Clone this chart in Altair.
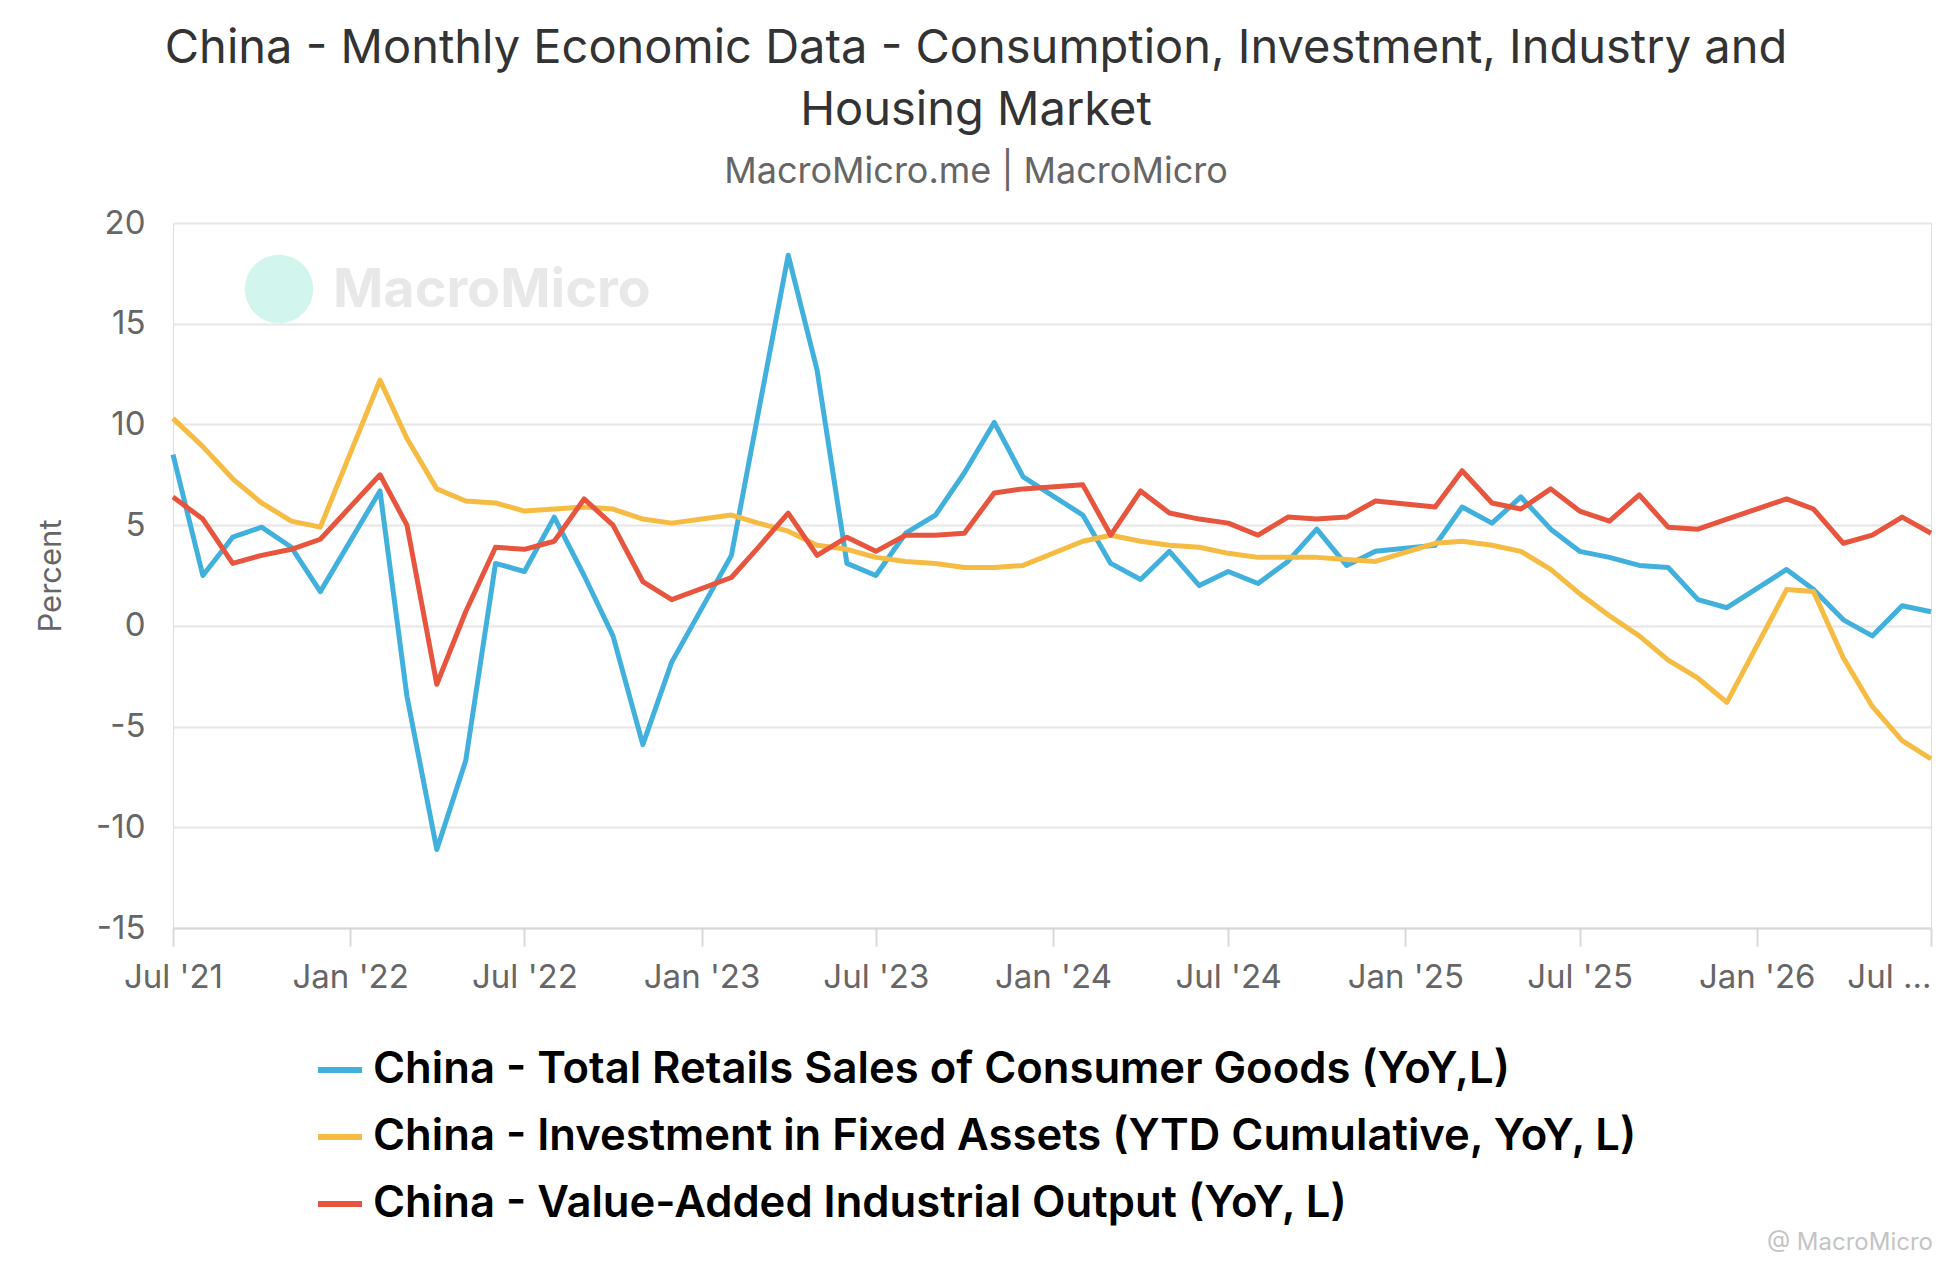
import altair as alt
import pandas as pd

# ---------------- data ----------------
months = [
    "2021-07", "2021-08", "2021-09", "2021-10", "2021-11", "2021-12",
    "2022-02", "2022-03", "2022-04", "2022-05", "2022-06", "2022-07", "2022-08", "2022-09", "2022-10", "2022-11", "2022-12",
    "2023-02", "2023-03", "2023-04", "2023-05", "2023-06", "2023-07", "2023-08", "2023-09", "2023-10", "2023-11", "2023-12",
    "2024-02", "2024-03", "2024-04", "2024-05", "2024-06", "2024-07", "2024-08", "2024-09", "2024-10", "2024-11", "2024-12",
    "2025-02", "2025-03", "2025-04", "2025-05", "2025-06", "2025-07", "2025-08", "2025-09", "2025-10", "2025-11", "2025-12",
    "2026-02", "2026-03", "2026-04", "2026-05", "2026-06", "2026-07",
]

retail = [
    8.5, 2.5, 4.4, 4.9, 3.9, 1.7,
    6.7, -3.5, -11.1, -6.7, 3.1, 2.7, 5.4, 2.5, -0.5, -5.9, -1.8,
    3.5, 10.6, 18.4, 12.7, 3.1, 2.5, 4.6, 5.5, 7.6, 10.1, 7.4,
    5.5, 3.1, 2.3, 3.7, 2.0, 2.7, 2.1, 3.2, 4.8, 3.0, 3.7,
    4.0, 5.9, 5.1, 6.4, 4.8, 3.7, 3.4, 3.0, 2.9, 1.3, 0.9,
    2.8, 1.8, 0.3, -0.5, 1.0, 0.7,
]

fixed_assets = [
    10.3, 8.9, 7.3, 6.1, 5.2, 4.9,
    12.2, 9.3, 6.8, 6.2, 6.1, 5.7, 5.8, 5.9, 5.8, 5.3, 5.1,
    5.5, 5.1, 4.7, 4.0, 3.8, 3.4, 3.2, 3.1, 2.9, 2.9, 3.0,
    4.2, 4.5, 4.2, 4.0, 3.9, 3.6, 3.4, 3.4, 3.4, 3.3, 3.2,
    4.1, 4.2, 4.0, 3.7, 2.8, 1.6, 0.5, -0.5, -1.7, -2.6, -3.8,
    1.8, 1.7, -1.6, -4.0, -5.7, -6.6,
]

industrial = [
    6.4, 5.3, 3.1, 3.5, 3.8, 4.3,
    7.5, 5.0, -2.9, 0.7, 3.9, 3.8, 4.2, 6.3, 5.0, 2.2, 1.3,
    2.4, 3.9, 5.6, 3.5, 4.4, 3.7, 4.5, 4.5, 4.6, 6.6, 6.8,
    7.0, 4.5, 6.7, 5.6, 5.3, 5.1, 4.5, 5.4, 5.3, 5.4, 6.2,
    5.9, 7.7, 6.1, 5.8, 6.8, 5.7, 5.2, 6.5, 4.9, 4.8, 5.3,
    6.3, 5.8, 4.1, 4.5, 5.4, 4.6,
]

series_names = [
    "China - Total Retails Sales of Consumer Goods (YoY,L)",
    "China - Investment in Fixed Assets (YTD Cumulative, YoY, L)",
    "China - Value-Added Industrial Output (YoY, L)",
]
series_colors = ["#41b0dc", "#f6bb42", "#e8553e"]

y_ticks = [-15, -10, -5, 0, 5, 10, 15, 20]
x_tick_years_months = [(2021, 7), (2022, 1), (2022, 7), (2023, 1), (2023, 7), (2024, 1),
                       (2024, 7), (2025, 1), (2025, 7), (2026, 1), (2026, 7)]

title_lines = ["China - Monthly Economic Data - Consumption, Investment, Industry and",
               "Housing Market"]
subtitle_text = "MacroMicro.me | MacroMicro"

# ---------------- build table ----------------
rows = []
for name, vals in zip(series_names, [retail, fixed_assets, industrial]):
    for m, v in zip(months, vals):
        rows.append({"date": m + "-01", "series": name, "value": v})
df = pd.DataFrame(rows)

FONT = "Inter"
W, H = 1758, 705
LAST = "utcyear(datum.value) == 2026 && utcmonth(datum.value) == 6"

x_enc = alt.X(
    "date:T",
    scale=alt.Scale(type="utc", nice=False,
                    domain=[alt.DateTime(year=2021, month=7, date=1, utc=True),
                            alt.DateTime(year=2026, month=7, date=1, utc=True)]),
    axis=alt.Axis(
        title=None,
        values=[alt.DateTime(year=y, month=m, date=1, utc=True) for y, m in x_tick_years_months],
        labelExpr=LAST + " ? 'Jul ...' : utcFormat(datum.value, \"%b '%y\")",
        labelAlign={"condition": {"test": LAST, "value": "right"}, "value": "center"},
        labelFont=FONT, labelFontSize=33, labelColor="#666666",
        labelPadding=15, labelOverlap=False,
        grid=False, domainColor="#d8d8d8", domainWidth=2,
        tickColor="#d8d8d8", tickSize=18, tickWidth=2,
    ),
)

y_enc = alt.Y(
    "value:Q",
    scale=alt.Scale(domain=[-15, 20], nice=False, zero=False),
    axis=alt.Axis(
        title="Percent", values=y_ticks, domain=False, ticks=False, tickSize=0,
        labelExpr="datum.value + ''",
        labelFont=FONT, labelFontSize=33, labelColor="#666666", labelPadding=28,
        gridColor="#e6e6e6", gridWidth=2,
        titleFont=FONT, titleFontSize=31, titleColor="#666666", titleFontWeight="normal",
        titleX=-106, titleY=H / 2,
    ),
)

lines = alt.Chart(df).mark_line(strokeWidth=5, strokeJoin="round").encode(
    x=x_enc,
    y=y_enc,
    color=alt.Color(
        "series:N",
        scale=alt.Scale(domain=series_names, range=series_colors),
        legend=alt.Legend(
            title=None, orient="none", legendX=142, legendY=822, direction="vertical",
            symbolType="stroke", symbolSize=1936, symbolStrokeWidth=6,
            labelFont=FONT, labelFontSize=43.6, labelFontWeight=600, labelColor="#000000",
            labelLimit=3000, labelOffset=8, rowPadding=20,
        ),
    ),
)

wm_logo = alt.Chart(pd.DataFrame({"k": [0]})).mark_circle(
    color="#d2f5ed", opacity=1, size=4700
).encode(x=alt.value(106), y=alt.value(66))

wm_text = alt.Chart(pd.DataFrame({"t": ["MacroMicro"]})).mark_text(
    font=FONT, fontSize=54, fontWeight="bold", color="#e8e8e8", align="left", baseline="middle"
).encode(text="t:N", x=alt.value(160), y=alt.value(68))

credit = alt.Chart(pd.DataFrame({"t": ["@ MacroMicro"]})).mark_text(
    font=FONT, fontSize=24, color="#c4c4c4", align="right", baseline="middle"
).encode(text="t:N", x=alt.value(1760), y=alt.value(1020))

chart = alt.layer(wm_logo, wm_text, lines, credit).properties(
    width=W,
    height=H,
    title=alt.TitleParams(
        text=title_lines, subtitle=[subtitle_text],
        font=FONT, fontSize=47, fontWeight="normal", color="#333333", lineHeight=62,
        subtitleFont=FONT, subtitleFontSize=36, subtitleColor="#666666", subtitlePadding=20,
        anchor="middle", dx=-76, offset=16,
    ),
    autosize=alt.AutoSizeParams(type="none"),
    padding={"left": 165, "top": 215, "right": 8, "bottom": 334},
).configure_view(stroke=None).configure(background="white")

chart.save("out.html", embed_options={"renderer": "svg", "actions": False})
